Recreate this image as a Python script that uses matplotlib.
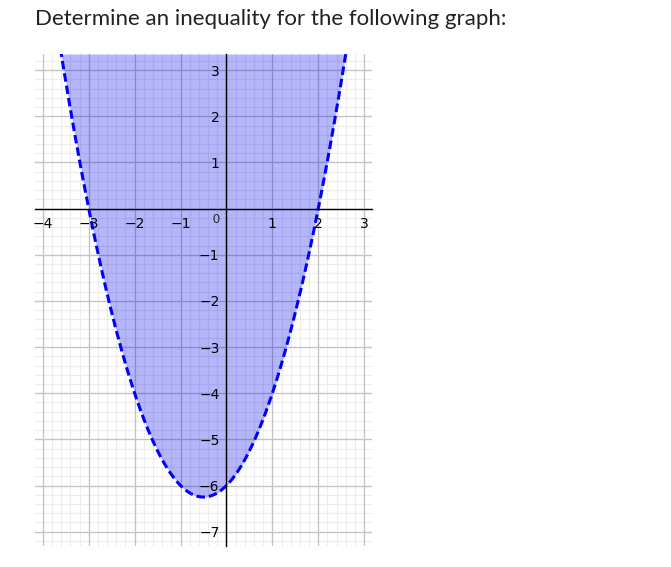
import numpy as np
from matplotlib import pyplot as plt

# boundary parabola y = (x - r1)(x - r2), read from the x-intercepts
roots = [-3, 2]
xticks = [-4, -3, -2, -1, 1, 2, 3]
yticks = [-7, -6, -5, -4, -3, -2, -1, 1, 2, 3]
xlim = (-4.17, 3.17)
ylim = (-7.31, 3.35)

fig = plt.figure(figsize=(6.71, 5.67), dpi=100)
fig.text(35/671, 1-25/567, 'Determine an inequality for the following graph:',
         fontsize=16, family='Lato', color='#222222', va='baseline')

ax = fig.add_axes([35/671, 21/567, 337/671, 492/567])
ax.set_xlim(*xlim)
ax.set_ylim(*ylim)

# grid drawn by hand so it can sit under the shading while labels sit on top
for gx in np.arange(-4.2, 3.3, 0.2):
    ax.axvline(gx, color='#ececec', lw=0.8, zorder=0.2)
for gy in np.arange(-7.4, 3.4, 0.2):
    ax.axhline(gy, color='#ececec', lw=0.8, zorder=0.2)
for gx in range(-4, 4):
    ax.axvline(gx, color='#c2c2c2', lw=0.9, zorder=0.5)
for gy in range(-7, 4):
    ax.axhline(gy, color='#c2c2c2', lw=0.9, zorder=0.5)

ax.set_xticks(xticks)
ax.set_yticks(yticks)
ax.set_xticklabels([str(t).replace('-', '\u2212') for t in xticks])
ax.set_yticklabels([str(t).replace('-', '\u2212') for t in yticks])
for lab in ax.get_xticklabels() + ax.get_yticklabels():
    lab.set_family('Liberation Sans')
    lab.set_fontsize(9)
    lab.set_color('#222222')
ax.tick_params(axis='x', which='major', length=0, pad=6)
ax.tick_params(axis='y', which='major', length=0, pad=5)
ax.xaxis.set_zorder(5)
ax.yaxis.set_zorder(5)

for s in ['top', 'right']:
    ax.spines[s].set_visible(False)
ax.spines['left'].set_position(('data', 0))
ax.spines['bottom'].set_position(('data', 0))
for s in ['left', 'bottom']:
    ax.spines[s].set_linewidth(1.0)
    ax.spines[s].set_zorder(4)
ax.text(-0.23, -0.24, '0', fontsize=9, family='Liberation Sans', color='#222222',
        ha='center', va='center', zorder=5)

x = np.linspace(xlim[0], xlim[1], 600)
y = (x - roots[0]) * (x - roots[1])
ax.fill_between(x, y, ylim[1], where=y < ylim[1], color='#0000f0', alpha=0.29, lw=0, zorder=1)
ax.plot(x, y, color='#0000ff', lw=2.2, ls=(0, (2.8, 1.3)), zorder=3)

plt.savefig('out.png', dpi=100)
